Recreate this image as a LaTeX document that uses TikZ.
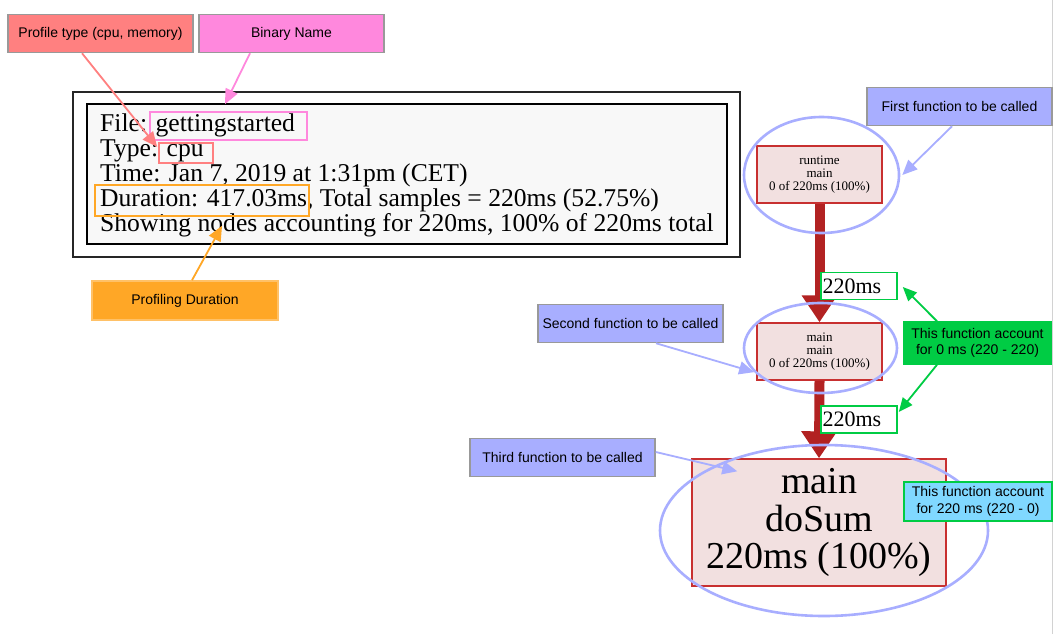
\documentclass[tikz,border=0pt]{standalone}
\usepackage{fontspec}
\setmainfont{Liberation Serif}
\newfontfamily\hv{Liberation Sans}
\usetikzlibrary{arrows.meta,calc,shapes.geometric}
\definecolor{csalmon}{HTML}{FF8080}
\definecolor{cpink}{HTML}{FF88DD}
\definecolor{corange}{HTML}{FFA726}
\definecolor{clav}{HTML}{A8AEFF}
\definecolor{cgreen}{HTML}{00CC44}
\definecolor{ccyan}{HTML}{80D8FF}
\definecolor{cnode}{HTML}{F2E0E0}
\definecolor{cnodeb}{HTML}{C83030}
\definecolor{cedge}{HTML}{B22222}
\definecolor{cgraybg}{HTML}{F8F8F8}
\tikzset{
  callout/.style={draw=gray!80, line width=1.5pt, font=\hv\fontsize{14}{16.5}\selectfont,
    minimum width=185pt, minimum height=38pt, inner sep=0pt, align=center},
  hl/.style={draw, line width=1.6pt, inner sep=0pt},
  infoline/.style={anchor=base west, inner sep=0pt, font=\fontsize{25.6}{25}\selectfont},
  fnode/.style={draw=cnodeb, fill=cnode, line width=1.4pt, align=center, inner sep=0pt},
  ring/.style={ellipse, draw=clav, line width=2.6pt, inner sep=0pt},
  calarrow/.style={draw=clav, line width=1.8pt, -{Triangle[length=15pt,width=13pt]}},
  grarrow/.style={draw=cgreen, line width=1.8pt, -{Triangle[length=14pt,width=12pt]}},
  redge/.style={draw=cedge, line width=10pt, -{Triangle[length=27pt,width=34pt]}},
  elabel/.style={draw=cgreen, fill=white, line width=1.6pt, minimum width=76pt, minimum height=27pt,
    inner sep=0pt, font=\fontsize{22}{22}\selectfont, text width=73pt, align=left}
}
\begin{document}
\begin{tikzpicture}[x=1pt,y=-1pt]
\useasboundingbox (0,0) rectangle (1054,634);
\fill[white] (0,0) rectangle (1054,634);
\draw[gray!35, line width=1pt] (1052.5,0) -- (1052.5,634);

% legend box
\draw[black!85, line width=1.2pt, fill=white] (73,92) rectangle (740,257);
\draw[black, line width=1.2pt, fill=cgraybg] (87,104) rectangle (727,244);
\node[infoline] (t1) at (100,131) {File: gettingstarted};
\node[infoline] (t2) at (100,156) {Type: cpu};
\node[infoline] (t3) at (100,181) {Time: Jan 7, 2019 at 1:31pm (CET)};
\node[infoline] (t4) at (100,206) {Duration: 417.03ms, Total samples = 220ms (52.75\%)};
\node[infoline] (t5) at (100,231) {Showing nodes accounting for 220ms, 100\% of 220ms total};

\node[hl, draw=cpink, minimum width=157pt, minimum height=28pt] (hlbin) at (228.5,126) {};
\node[hl, draw=csalmon, minimum width=54pt, minimum height=20pt] (hlcpu) at (186,153) {};
\node[hl, draw=corange, minimum width=214pt, minimum height=31pt] (hldur) at (202,200.5) {};

% callouts left
\node[callout, fill=csalmon] (prof) at (100.5,33.5) {Profile type (cpu, memory)};
\node[callout, fill=cpink] (bin) at (291.5,33.5) {Binary Name};
\node[callout, fill=corange, draw=corange!70!white, minimum width=186pt, minimum height=39pt] (dur) at (185,300.5) {Profiling Duration};

\draw[draw=csalmon, line width=1.8pt, -{Triangle[length=15pt,width=13pt]}] ($(prof.south)+(-18.5,0)$) -- ($(hlcpu.west)+(-1,-6)$);
\draw[draw=cpink, line width=1.8pt, -{Triangle[length=15pt,width=13pt]}] ($(bin.south)+(-41.5,0)$) -- ($(hlbin.north)+(-3.5,-7)$);
\draw[draw=corange, line width=1.8pt, -{Triangle[length=15pt,width=13pt]}] ($(dur.north)+(7,0)$) -- ($(hldur.south)+(20,9)$);

% function nodes
\node[fnode, minimum width=125pt, minimum height=57pt, font=\fontsize{13}{13}\selectfont] (n1) at (819.5,174.5) {runtime\\main\\0 of 220ms (100\%)};
\node[fnode, minimum width=125pt, minimum height=57pt, font=\fontsize{13}{13}\selectfont] (n2) at (819.5,351.5) {main\\main\\0 of 220ms (100\%)};
\node[fnode, minimum width=254pt, minimum height=127pt, font=\fontsize{38}{37.5}\selectfont] (n3) at (819,522.5) {main\\doSum\\220ms (100\%)};

\draw[redge] (n1.south) -- (n2.north);
\draw[redge] (n2.south) -- (n3.north);

\node[elabel] (l1) at (859,286) {220ms};
\node[elabel] (l2) at (859,419.5) {220ms};

% rings
\node[ring, minimum width=155pt, minimum height=116pt] (e1) at (821.5,175) {};
\node[ring, minimum width=153pt, minimum height=90pt] (e2) at (820.5,348) {};
\node[ring, minimum width=328pt, minimum height=171pt] (e3) at (824,530.5) {};

% callouts right
\node[callout, fill=clav] (first) at (959.5,106.5) {First function to be called};
\node[callout, fill=clav] (second) at (630.5,323.5) {Second function to be called};
\node[callout, fill=clav] (third) at (562.5,457.5) {Third function to be called};
\node[callout, fill=cgreen, draw=cgreen, minimum width=148pt, minimum height=42pt] (green) at (977.5,343) {This function account\\for 0 ms (220 - 220)};
\node[callout, fill=ccyan, draw=cgreen, minimum width=148pt, minimum height=39pt] (cyan) at (978,501.5) {This function account\\for 220 ms (220 - 0)};

\draw[calarrow] ($(first.south)+(-7.5,0)$) -- ($(e1.east)+(2,0)$);
\draw[calarrow] ($(second.south)+(25.5,0)$) -- (e2.200);
\draw[calarrow] ($(third.east)+(0,-5.5)$) -- ($(n3.north west)+(46,13)$);

\draw[grarrow] ($(green.north)+(-40.5,0)$) -- ($(l1.east)+(5,1)$);
\draw[grarrow] ($(green.south)+(-40.5,0)$) -- ($(l2.east)+(1,-7.5)$);
\end{tikzpicture}
\end{document}
